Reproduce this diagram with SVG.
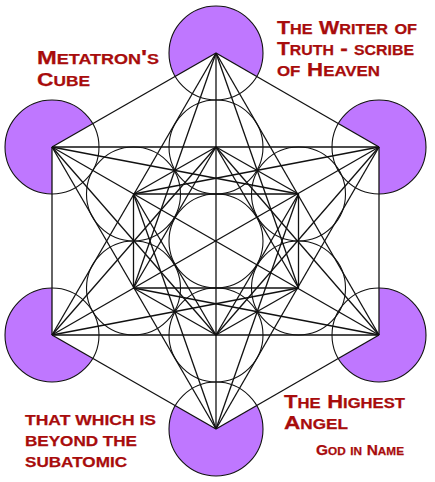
<svg xmlns="http://www.w3.org/2000/svg" width="435" height="482" viewBox="0 0 435 482">
<style>
.c{fill:none;stroke:#111;stroke-width:1.1}
.w{fill:#bf77ff;stroke:none}
#connectors line{stroke:#111;stroke-width:1.3}
text{font-family:"Liberation Sans",Arial,sans-serif;font-weight:bold;font-variant:small-caps;fill:#a80c0c;font-size:20px;stroke:#a80c0c;stroke-width:.25}
tspan{font-size:18.5px}
.lc{font-size:15.4px;font-variant:normal}
.sm{font-size:15.5px}
.sm tspan{font-size:14.5px}
</style>
<rect width="435" height="482" fill="#fff"/>
<g id="outer-circles">
<g id="n-top"><path class="w" d="M216 53L175.3 76.5A47 47 0 1 1 256.7 76.5Z"/><circle class="c" cx="216" cy="53" r="47"/></g>
<g id="n-upper-right"><path class="w" d="M379 147L338.3 123.5A47 47 0 1 1 379 194Z"/><circle class="c" cx="379" cy="147" r="47"/></g>
<g id="n-lower-right"><path class="w" d="M379 335L379 288A47 47 0 1 1 338.3 358.5Z"/><circle class="c" cx="379" cy="335" r="47"/></g>
<g id="n-bottom"><path class="w" d="M216 429L256.7 405.5A47 47 0 1 1 175.3 405.5Z"/><circle class="c" cx="216" cy="429" r="47"/></g>
<g id="n-lower-left"><path class="w" d="M52 335L92.7 358.5A47 47 0 1 1 52 288Z"/><circle class="c" cx="52" cy="335" r="47"/></g>
<g id="n-upper-left"><path class="w" d="M52 147L52 194A47 47 0 1 1 92.7 123.5Z"/><circle class="c" cx="52" cy="147" r="47"/></g>
</g>
<g id="inner-circles">
<g id="n-center"><circle class="c" cx="216" cy="241" r="47"/></g>
<g id="n-i0"><circle class="c" cx="216" cy="147" r="47"/></g>
<g id="n-i1"><circle class="c" cx="298.5" cy="194" r="47"/></g>
<g id="n-i2"><circle class="c" cx="298.5" cy="288" r="47"/></g>
<g id="n-i3"><circle class="c" cx="216" cy="335" r="47"/></g>
<g id="n-i4"><circle class="c" cx="133.5" cy="288" r="47"/></g>
<g id="n-i5"><circle class="c" cx="133.5" cy="194" r="47"/></g>
</g>
<g id="connectors">
<line x1="216" y1="53" x2="379" y2="147"/>
<line x1="379" y1="147" x2="379" y2="335"/>
<line x1="379" y1="335" x2="216" y2="429"/>
<line x1="216" y1="429" x2="52" y2="335"/>
<line x1="52" y1="335" x2="52" y2="147"/>
<line x1="52" y1="147" x2="216" y2="53"/>
<line x1="216" y1="53" x2="379" y2="335"/>
<line x1="379" y1="335" x2="52" y2="335"/>
<line x1="52" y1="335" x2="216" y2="53"/>
<line x1="379" y1="147" x2="216" y2="429"/>
<line x1="216" y1="429" x2="52" y2="147"/>
<line x1="52" y1="147" x2="379" y2="147"/>
<line x1="216" y1="53" x2="216" y2="429"/>
<line x1="379" y1="147" x2="52" y2="335"/>
<line x1="379" y1="335" x2="52" y2="147"/>
<line x1="216" y1="53" x2="298.5" y2="288"/>
<line x1="216" y1="53" x2="133.5" y2="288"/>
<line x1="379" y1="147" x2="216" y2="335"/>
<line x1="379" y1="147" x2="133.5" y2="194"/>
<line x1="379" y1="335" x2="216" y2="147"/>
<line x1="379" y1="335" x2="133.5" y2="288"/>
<line x1="216" y1="429" x2="298.5" y2="194"/>
<line x1="216" y1="429" x2="133.5" y2="194"/>
<line x1="52" y1="335" x2="216" y2="147"/>
<line x1="52" y1="335" x2="298.5" y2="288"/>
<line x1="52" y1="147" x2="298.5" y2="194"/>
<line x1="52" y1="147" x2="216" y2="335"/>
<line x1="216" y1="147" x2="298.5" y2="194"/>
<line x1="298.5" y1="194" x2="298.5" y2="288"/>
<line x1="298.5" y1="288" x2="216" y2="335"/>
<line x1="216" y1="335" x2="133.5" y2="288"/>
<line x1="133.5" y1="288" x2="133.5" y2="194"/>
<line x1="133.5" y1="194" x2="216" y2="147"/>
<line x1="216" y1="147" x2="298.5" y2="288"/>
<line x1="298.5" y1="288" x2="133.5" y2="288"/>
<line x1="133.5" y1="288" x2="216" y2="147"/>
<line x1="298.5" y1="194" x2="216" y2="335"/>
<line x1="216" y1="335" x2="133.5" y2="194"/>
<line x1="133.5" y1="194" x2="298.5" y2="194"/>
</g>
<g id="labels">
<text x="37" y="64" textLength="122" lengthAdjust="spacingAndGlyphs"><tspan>M</tspan>etatron's</text>
<text x="37" y="86" textLength="53" lengthAdjust="spacingAndGlyphs"><tspan>C</tspan>ube</text>
<text x="277" y="34" textLength="140" lengthAdjust="spacingAndGlyphs"><tspan>T</tspan>he <tspan>W</tspan>riter of</text>
<text x="277" y="55" textLength="137" lengthAdjust="spacingAndGlyphs"><tspan>T</tspan>ruth - scribe</text>
<text x="277" y="76" textLength="103" lengthAdjust="spacingAndGlyphs">of <tspan>H</tspan>eaven</text>
<text class="lc" x="25" y="425" textLength="131" lengthAdjust="spacingAndGlyphs">THAT WHICH IS</text>
<text class="lc" x="25" y="446" textLength="112" lengthAdjust="spacingAndGlyphs">BEYOND THE</text>
<text class="lc" x="25" y="467" textLength="102" lengthAdjust="spacingAndGlyphs">SUBATOMIC</text>
<text x="284" y="408" textLength="121" lengthAdjust="spacingAndGlyphs"><tspan>T</tspan>he <tspan>H</tspan>ighest</text>
<text x="284" y="429" textLength="64" lengthAdjust="spacingAndGlyphs"><tspan>A</tspan>ngel</text>
<text class="sm" x="316" y="455" textLength="88" lengthAdjust="spacingAndGlyphs"><tspan>G</tspan>od in <tspan>N</tspan>ame</text>
</g>
</svg>
